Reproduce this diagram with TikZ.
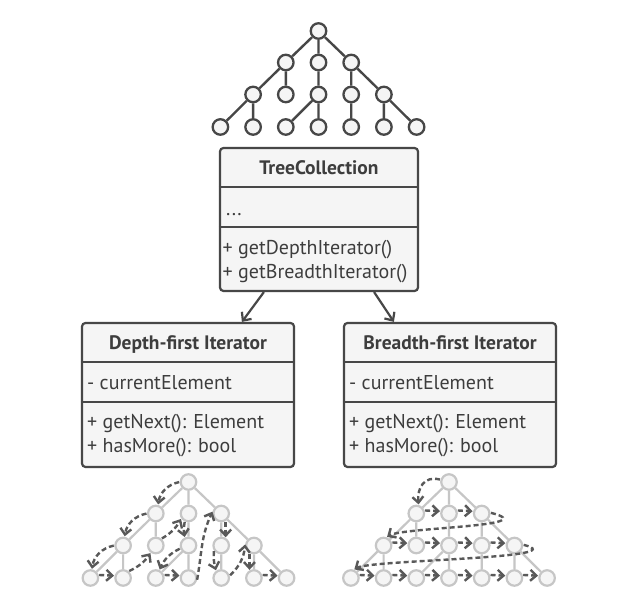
\documentclass[tikz,border=0pt]{standalone}
\usepackage{fontspec}
\setmainfont{PT Sans}
\usetikzlibrary{arrows.meta,calc}
\definecolor{dk}{HTML}{474747}
\definecolor{fillc}{HTML}{F5F5F5}
\definecolor{lite}{HTML}{C6C6C6}
\definecolor{dsh}{HTML}{595959}
\definecolor{txt}{HTML}{3D3D3D}
\tikzset{
  tnode/.style={circle, draw=dk, fill=fillc, line width=2.3pt, minimum size=15.5pt, inner sep=0pt},
  tedge/.style={draw=dk, line width=2.4pt},
  bnode/.style={circle, draw=lite, fill=fillc, line width=2.2pt, minimum size=15.5pt, inner sep=0pt},
  bedge/.style={draw=lite, line width=2.2pt},
  darrow/.style={draw=dsh, line width=2.4pt, dash pattern=on 5pt off 3pt,
    -{Straight Barb[length=6pt,width=11pt]}, shorten >=0.5pt, shorten <=0.5pt},
  umlbox/.style={draw=dk, fill=fillc, line width=2.2pt, rounded corners=3.5pt, inner sep=0pt},
  divline/.style={draw=dk, line width=2.2pt},
  conn/.style={draw=dk, line width=2.2pt, -{Straight Barb[length=6.5pt,width=12pt]}},
  ttl/.style={text=txt, font=\fontsize{19.5}{22}\selectfont\bfseries, anchor=base, inner sep=0pt},
  mem/.style={text=txt, font=\fontsize{20}{22}\selectfont, anchor=base west, inner sep=0pt}
}
\newcommand\mytree[5]{%
  \node[#4] (#1r) at (#2,#3) {};
  \node[#4] (#1a) at ({#2-32.7},{#3-31.5}) {};
  \node[#4] (#1b) at ({#2},{#3-31.5}) {};
  \node[#4] (#1c) at ({#2+32.7},{#3-31.5}) {};
  \node[#4] (#1d) at ({#2-65.4},{#3-63.5}) {};
  \node[#4] (#1e) at ({#2-32.7},{#3-63.5}) {};
  \node[#4] (#1f) at ({#2},{#3-63.5}) {};
  \node[#4] (#1g) at ({#2+32.7},{#3-63.5}) {};
  \node[#4] (#1h) at ({#2+65.4},{#3-63.5}) {};
  \node[#4] (#1i) at ({#2-98.1},{#3-96}) {};
  \node[#4] (#1j) at ({#2-65.4},{#3-96}) {};
  \node[#4] (#1k) at ({#2-32.7},{#3-96}) {};
  \node[#4] (#1l) at ({#2},{#3-96}) {};
  \node[#4] (#1m) at ({#2+32.7},{#3-96}) {};
  \node[#4] (#1n) at ({#2+65.4},{#3-96}) {};
  \node[#4] (#1o) at ({#2+98.1},{#3-96}) {};
  \draw[#5] (#1r) -- (#1a) (#1r) -- (#1b) (#1r) -- (#1c)
    (#1a) -- (#1d) (#1a) -- (#1e) (#1b) -- (#1f) (#1c) -- (#1g) (#1c) -- (#1h)
    (#1d) -- (#1i) (#1d) -- (#1j) (#1f) -- (#1k) (#1f) -- (#1l) (#1g) -- (#1m)
    (#1h) -- (#1n) (#1h) -- (#1o);
}
\begin{document}
\begin{tikzpicture}[x=1pt,y=1pt]
\useasboundingbox (0,0) rectangle (627,609);
\fill[white] (0,0) rectangle (627,609);

% top tree
\mytree{T}{318.5}{578}{tnode}{tedge}

% TreeCollection box
\node[umlbox, minimum width=198pt, minimum height=143pt] (tc) at (319,389.5) {};
\draw[divline] ($(tc.north west)+(0,-40)$) -- ($(tc.north east)+(0,-40)$);
\draw[divline] ($(tc.north west)+(0,-80)$) -- ($(tc.north east)+(0,-80)$);
\node[ttl] (tct) at (319,434) {TreeCollection};
\node[mem] (tca) at (226,393) {...};
\node[mem] (tcm1) at (222.5,354.5) {+ getDepthIterator()};
\node[mem] (tcm2) at (222.5,330) {+ getBreadthIterator()};

% Depth-first box
\node[umlbox, minimum width=212pt, minimum height=144pt] (dfi) at (188,214) {};
\draw[divline] ($(dfi.north west)+(0,-40)$) -- ($(dfi.north east)+(0,-40)$);
\draw[divline] ($(dfi.north west)+(0,-80)$) -- ($(dfi.north east)+(0,-80)$);
\node[ttl] (dft) at (188,259) {Depth-first Iterator};
\node[mem] (dfa) at (87,219.5) {- currentElement};
\node[mem] (dfm1) at (87,180.5) {+ getNext(): Element};
\node[mem] (dfm2) at (87,156) {+ hasMore(): bool};

% Breadth-first box
\node[umlbox, minimum width=212pt, minimum height=144pt] (bfi) at (450,214) {};
\draw[divline] ($(bfi.north west)+(0,-40)$) -- ($(bfi.north east)+(0,-40)$);
\draw[divline] ($(bfi.north west)+(0,-80)$) -- ($(bfi.north east)+(0,-80)$);
\node[ttl] (bft) at (450,259) {Breadth-first Iterator};
\node[mem] (bfa) at (349,219.5) {- currentElement};
\node[mem] (bfm1) at (349,180.5) {+ getNext(): Element};
\node[mem] (bfm2) at (349,156) {+ hasMore(): bool};

% connectors
\draw[conn] ($(tc.south west)+(45,0)$) -- ($(dfi.north west)+(161,0)$);
\draw[conn] ($(tc.south east)+(-45,0)$) -- ($(bfi.north west)+(51,0)$);

% bottom trees
\mytree{D}{188.5}{127}{bnode}{bedge}
\mytree{B}{449}{127}{bnode}{bedge}

% depth-first traversal
\draw[darrow] (Dr.west) to[bend right=35] (Da.75);
\draw[darrow] (Da.west) to[bend right=35] (Dd.80);
\draw[darrow] (Dd.west) to[bend right=35] (Di.80);
\draw[darrow] (Di.20) -- (Dj.165);
\draw[darrow] (Dj.50) to[bend right=15] (De.235);
\draw[darrow] (De.50) to[bend right=15] (Db.215);
\draw[darrow] (Db.245) to[bend right=10] (Df.115);
\draw[darrow] (Df.200) to[bend right=20] (Dk.65);
\draw[darrow] (Dk.20) -- (Dl.165);
\draw[darrow] (Dl.-15) to[out=80,in=245] (Dc.165);
\draw[darrow] (Dc.300) -- (Dg.60);
\draw[darrow] (Dg.215) to[bend right=10] (Dm.125);
\draw[darrow] (Dm.15) to[bend right=20] (Dh.170);
\draw[darrow] (Dh.240) -- (Dn.120);
\draw[darrow] (Dn.20) -- (Do.165);

% breadth-first traversal
\draw[darrow] (Br.165) to[out=165,in=95,looseness=1.3] (Ba.75);
\draw[darrow] (Ba.20) -- (Bb.165);
\draw[darrow] (Bb.20) -- (Bc.165);
\draw[darrow] (Bc.5) .. controls +(55,-14) and +(16,10) .. (Bd.70);
\draw[darrow] (Bd.20) -- (Be.165);
\draw[darrow] (Be.20) -- (Bf.165);
\draw[darrow] (Bf.20) -- (Bg.165);
\draw[darrow] (Bg.20) -- (Bh.165);
\draw[darrow] (Bh.5) .. controls +(55,-14) and +(16,10) .. (Bi.70);
\draw[darrow] (Bi.20) -- (Bj.165);
\draw[darrow] (Bj.20) -- (Bk.165);
\draw[darrow] (Bk.20) -- (Bl.165);
\draw[darrow] (Bl.20) -- (Bm.165);
\draw[darrow] (Bm.20) -- (Bn.165);
\draw[darrow] (Bn.20) -- (Bo.165);
\end{tikzpicture}
\end{document}
